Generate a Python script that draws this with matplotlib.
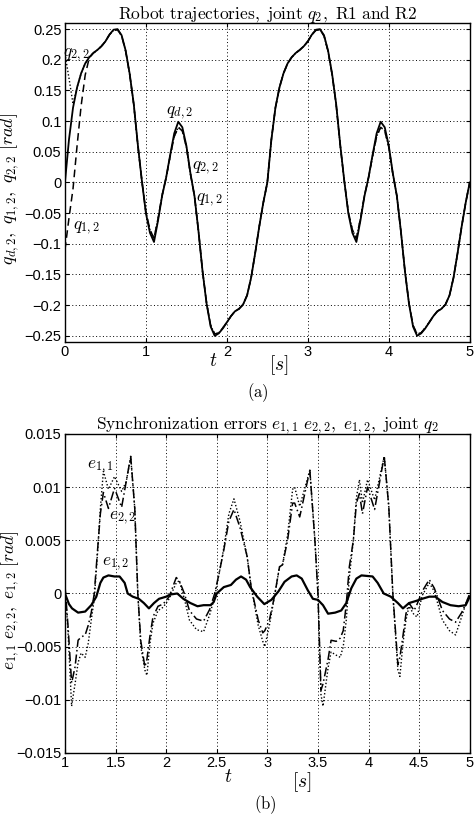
import numpy as np
import matplotlib
matplotlib.use("Agg")
import matplotlib.pyplot as plt

plt.rcParams['mathtext.fontset'] = 'cm'
plt.rcParams['font.family'] = ['Liberation Sans', 'DejaVu Sans']

# ---- top panel: joint q2 trajectories (one period 0..2.45 s, step 0.05) ----
qd_period = [0.000, 0.070, 0.122, 0.155, 0.178, 0.194, 0.204, 0.211, 0.216, 0.222,
             0.230, 0.241, 0.249, 0.250, 0.240, 0.215, 0.177, 0.128, 0.062, 0.003,
             -0.050, -0.082, -0.097, -0.062, -0.022, 0.008, 0.045, 0.080, 0.099, 0.090,
             0.060, 0.015, -0.022, -0.080, -0.145, -0.198, -0.235, -0.250, -0.246, -0.238,
             -0.228, -0.218, -0.210, -0.206, -0.199, -0.184, -0.155, -0.115, -0.072, -0.033]
follow_period = [0.000, 0.070, 0.122, 0.155, 0.178, 0.194, 0.204, 0.211, 0.216, 0.222,
                 0.230, 0.241, 0.248, 0.249, 0.239, 0.214, 0.176, 0.127, 0.061, 0.003,
                 -0.048, -0.077, -0.091, -0.059, -0.021, 0.008, 0.043, 0.075, 0.090, 0.084,
                 0.058, 0.014, -0.022, -0.080, -0.145, -0.197, -0.233, -0.247, -0.245, -0.237,
                 -0.228, -0.218, -0.210, -0.206, -0.199, -0.184, -0.155, -0.115, -0.072, -0.033]
q12_start = [-0.110, -0.058, -0.010, 0.060, 0.125, 0.175, 0.203]
q22_start = [0.210, 0.170, 0.128]

t_top = np.linspace(0, 5, 101)
qd2 = qd_period + qd_period + [0.0]
q12 = q12_start + follow_period[7:] + follow_period + [0.0]
q22 = q22_start + follow_period[3:] + follow_period + [0.0]

# ---- bottom panel: synchronization errors ----
t_err = [1.00, 1.03, 1.066, 1.08, 1.10, 1.13, 1.16, 1.20, 1.23, 1.26, 1.29, 1.32, 1.35, 1.38,
         1.43, 1.49, 1.56, 1.605, 1.65, 1.69, 1.72, 1.75, 1.79, 1.81, 1.84, 1.87, 1.92, 1.97,
         2.03, 2.10, 2.13, 2.18, 2.23, 2.30, 2.37, 2.43, 2.48, 2.53, 2.57, 2.62, 2.67, 2.73,
         2.80, 2.84, 2.91, 2.955, 2.975, 3.02, 3.07, 3.12, 3.15, 3.20, 3.25, 3.27, 3.32, 3.42,
         3.47, 3.50, 3.53, 3.55, 3.60, 3.63, 3.68, 3.72, 3.75, 3.78, 3.81, 3.85, 3.88, 3.91,
         3.94, 3.99, 4.06, 4.10, 4.155, 4.20, 4.24, 4.29, 4.31, 4.34, 4.37, 4.40, 4.45, 4.48,
         4.53, 4.60, 4.65, 4.73, 4.80, 4.86, 4.92, 4.96, 5.00]
e22 = [0.0008, -0.0030, -0.0084, -0.0078, -0.0069, -0.0044, -0.0041, -0.0039, -0.0030, -0.0018,
       0.0000, 0.0038, 0.0075, 0.0095, 0.0080, 0.0099, 0.0081, 0.0105, 0.0129, 0.0080,
       0.0000, -0.0045, -0.0069, -0.0062, -0.0040, -0.0022, -0.0012, -0.0010,
       -0.0003, 0.0015, 0.0012, 0.0000, -0.0016, -0.0024, -0.0026, -0.0015, 0.0000, 0.0022,
       0.0041, 0.0068, 0.0079, 0.0062, 0.0035, 0.0006, -0.0025, -0.0037, -0.0035, -0.0025,
       -0.0003, 0.0025, 0.0027, 0.0050, 0.0085, 0.0085, 0.0072, 0.0116, 0.0050, 0.0000,
       -0.0091, -0.0085, -0.0062, -0.0044, -0.0045, -0.0042, -0.0035, -0.0010, 0.0025, 0.0050,
       0.0085, 0.0094, 0.0075, 0.0100, 0.0079, 0.0100, 0.0129, 0.0082, 0.0000, -0.0067,
       -0.0060, -0.0040, -0.0019, -0.0009, -0.0016, -0.0010, 0.0002, 0.0013, 0.0005, -0.0016,
       -0.0024, -0.0027, -0.0018, -0.0010, 0.0000]
e11 = [0.0008, -0.0035, -0.0106, -0.0097, -0.0085, -0.0065, -0.0056, -0.0060, -0.0047, -0.0025,
       -0.0005, 0.0035, 0.0080, 0.0115, 0.0098, 0.0110, 0.0096, 0.0105, 0.0128, 0.0080,
       0.0000, -0.0050, -0.0072, -0.0077, -0.0047, -0.0028, -0.0016, -0.0013,
       -0.0005, 0.0010, 0.0012, -0.0005, -0.0025, -0.0034, -0.0036, -0.0020, -0.0003, 0.0022,
       0.0043, 0.0075, 0.0089, 0.0068, 0.0035, 0.0006, -0.0030, -0.0045, -0.0050, -0.0030,
       -0.0003, 0.0025, 0.0027, 0.0055, 0.0098, 0.0100, 0.0082, 0.0116, 0.0050, 0.0000,
       -0.0095, -0.0106, -0.0070, -0.0055, -0.0058, -0.0060, -0.0050, -0.0025, 0.0015, 0.0050,
       0.0090, 0.0107, 0.0085, 0.0107, 0.0088, 0.0105, 0.0129, 0.0082, 0.0000, -0.0072,
       -0.0078, -0.0047, -0.0025, -0.0012, -0.0020, -0.0022, -0.0002, 0.0010, 0.0002, -0.0025,
       -0.0035, -0.0039, -0.0022, -0.0010, 0.0000]

t_e12 = [1.00, 1.04, 1.07, 1.13, 1.20, 1.26, 1.31, 1.35, 1.38, 1.43, 1.49, 1.54, 1.59, 1.62,
         1.67, 1.73, 1.78, 1.83, 1.88, 1.93, 2.00, 2.04, 2.11, 2.17, 2.24, 2.31, 2.37, 2.44,
         2.47, 2.50, 2.57, 2.64, 2.69, 2.74, 2.79, 2.83, 2.90, 2.97, 3.04, 3.11, 3.17, 3.24,
         3.29, 3.34, 3.40, 3.45, 3.50, 3.55, 3.60, 3.67, 3.73, 3.78, 3.83, 3.88, 3.93, 4.04,
         4.09, 4.15, 4.22, 4.29, 4.34, 4.40, 4.47, 4.53, 4.60, 4.66, 4.73, 4.81, 4.89, 4.96, 5.00]
e12 = [0.0000, -0.0010, -0.0014, -0.0018, -0.0017, -0.0011, -0.0003, 0.0010, 0.0015, 0.0017,
       0.0016, 0.0016, 0.0010, 0.0000, -0.0003, -0.0005, -0.0009, -0.0014, -0.0009, -0.0005,
       -0.0003, -0.0001, 0.0000, -0.0005, -0.0009, -0.0012, -0.0011, -0.0011, -0.0008, 0.0000,
       0.0006, 0.0008, 0.0013, 0.0016, 0.0013, 0.0006, -0.0003, -0.0010, -0.0006, 0.0002,
       0.0011, 0.0016, 0.0017, 0.0014, 0.0003, -0.0005, -0.0006, -0.0011, -0.0019, -0.0018,
       -0.0016, -0.0009, 0.0005, 0.0014, 0.0017, 0.0016, 0.0010, 0.0000, -0.0003, -0.0009,
       -0.0014, -0.0009, -0.0007, -0.0005, -0.0003, -0.0003, -0.0008, -0.0011, -0.0012, -0.0011,
       -0.0003]

top_yticks = [-0.25, -0.2, -0.15, -0.1, -0.05, 0, 0.05, 0.1, 0.15, 0.2, 0.25]
top_yticklabels = ['\u22120.25', '\u22120.2', '\u22120.15', '\u22120.1', '\u22120.05', '0',
                   '0.05', '0.1', '0.15', '0.2', '0.25']
bot_yticks = [-0.015, -0.01, -0.005, 0, 0.005, 0.01, 0.015]
bot_yticklabels = ['\u22120.015', '\u22120.01', '\u22120.005', '0', '0.005', '0.01', '0.015']
bot_xticks = [1, 1.5, 2, 2.5, 3, 3.5, 4, 4.5, 5]
bot_xticklabels = ['1', '1.5', '2', '2.5', '3', '3.5', '4', '4.5', '5']

fig = plt.figure(figsize=(4.74, 8.15), dpi=100)
ax1 = fig.add_axes([0.137, 0.5804, 0.854, 0.3914])
ax2 = fig.add_axes([0.137, 0.0761, 0.854, 0.3914])


def style(ax):
    ax.grid(True, color='black', linestyle=(0, (1, 2.5)), linewidth=0.7)
    ax.tick_params(direction='in', length=3, top=True, right=True, labelsize=10.5, pad=2.5)
    for s in ax.spines.values():
        s.set_linewidth(1.0)


ax1.plot(t_top, qd2, color='black', lw=1.3, ls='-')
ax1.plot(t_top, q12, color='black', lw=1.1, ls=(0, (5, 3)))
ax1.plot(t_top, q22, color='black', lw=1.0, ls=(0, (1, 1.5)))
ax1.set_xlim(0, 5)
ax1.set_ylim(-0.26, 0.26)
ax1.set_xticks([0, 1, 2, 3, 4, 5])
ax1.set_yticks(top_yticks)
ax1.set_yticklabels(top_yticklabels)
style(ax1)
ax1.set_title(r'$\mathrm{Robot\ trajectories,\ joint\ }q_2\mathrm{,\ R1\ and\ R2}$', fontsize=12.5, pad=3)
ax1.set_ylabel(r'$q_{d,2},\ q_{1,2},\ q_{2,2}\ [rad]$', fontsize=13)
ax1.yaxis.set_label_coords(-0.108, 0.48)
ax1.text(0.14, 0.208, r'$q_{2,2}$', fontsize=12.5, ha='center', va='center')
ax1.text(1.42, 0.112, r'$q_{d,2}$', fontsize=12.5, ha='center', va='center')
ax1.text(1.73, 0.023, r'$q_{2,2}$', fontsize=12.5, ha='center', va='center')
ax1.text(1.79, -0.029, r'$q_{1,2}$', fontsize=12.5, ha='center', va='center')
ax1.text(0.27, -0.075, r'$q_{1,2}$', fontsize=12.5, ha='center', va='center')
fig.text(213 / 474, 1 - 362 / 815, r'$t$', fontsize=14, ha='center', va='center')
fig.text(279 / 474, 1 - 365 / 815, r'$[s]$', fontsize=14, ha='center', va='center')
fig.text(258 / 474, 1 - 393 / 815, r'$\mathrm{(a)}$', fontsize=12, ha='center', va='center')

ax2.plot(t_err, e11, color='black', lw=1.0, ls=(0, (1, 1.5)))
ax2.plot(t_err, e22, color='black', lw=1.1, ls=(0, (6, 2, 1, 2)))
ax2.plot(t_e12, e12, color='black', lw=1.6, ls='-')
ax2.set_xlim(1, 5)
ax2.set_ylim(-0.015, 0.015)
ax2.set_xticks(bot_xticks)
ax2.set_xticklabels(bot_xticklabels)
ax2.set_yticks(bot_yticks)
ax2.set_yticklabels(bot_yticklabels)
style(ax2)
ax2.set_title(r'$\mathrm{Synchronization\ errors\ }e_{1,1}\ e_{2,2},\ e_{1,2}\mathrm{,\ joint\ }q_2$',
              fontsize=12.5, pad=3)
ax2.set_ylabel(r'$e_{1,1}\ e_{2,2},\ e_{1,2}\ [rad]$', fontsize=12.5)
ax2.yaxis.set_label_coords(-0.105, 0.48)
ax2.text(1.35, 0.0119, r'$e_{1,1}$', fontsize=12.5, ha='center', va='center')
ax2.text(1.57, 0.0071, r'$e_{2,2}$', fontsize=12.5, ha='center', va='center')
ax2.text(1.50, 0.0027, r'$e_{1,2}$', fontsize=12.5, ha='center', va='center')
fig.text(228 / 474, 1 - 777 / 815, r'$t$', fontsize=14, ha='center', va='center')
fig.text(302 / 474, 1 - 782 / 815, r'$[s]$', fontsize=14, ha='center', va='center')
fig.text(265 / 474, 1 - 805 / 815, r'$\mathrm{(b)}$', fontsize=12, ha='center', va='center')

fig.savefig('out.png', dpi=100)
